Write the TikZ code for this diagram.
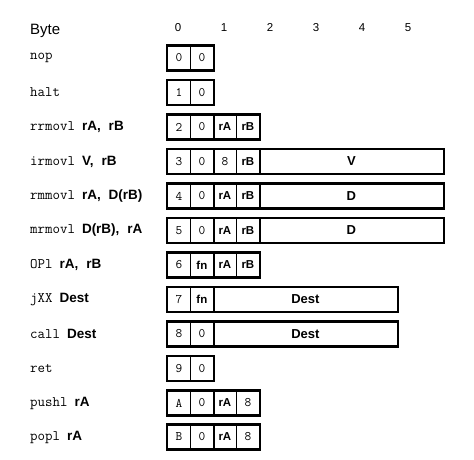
\documentclass[tikz,border=0pt]{standalone}
\usepackage{fontspec}
\setmainfont{Liberation Sans}
\newfontfamily\monof{Latin Modern Mono}
\newfontfamily\sansf{Liberation Sans}
\newcommand\cellat[5]{\node[#4] (#1) at ({167+23*#2},#3) {#5};}
\begin{document}
\begin{tikzpicture}[x=1pt,y=-1pt,
  nib/.style={draw, line width=0.8pt, minimum width=23pt, minimum height=24pt, inner sep=0pt, anchor=west, font=\monof\fontsize{13}{13}\selectfont},
  reg/.style={nib, font=\sansf\bfseries\fontsize{11.5}{11.5}\selectfont},
  wide/.style={nib, font=\sansf\bfseries\fontsize{13}{13}\selectfont, minimum width=#1},
  outer/.style={line width=2.6pt, line join=miter},
  bytediv/.style={line width=2.2pt},
  lbl/.style={anchor=west, inner sep=0pt, font=\sansf\bfseries\fontsize{13.5}{13.5}\selectfont},
  colnum/.style={inner sep=0pt, anchor=base, font=\sansf\fontsize{11.5}{11.5}\selectfont}
]
\useasboundingbox[fill=white] (0,0) rectangle (474,460);
\newcommand\mn[1]{{\monof\mdseries\fontsize{14.5}{14.5}\selectfont #1}\hspace{7pt}}
\newcommand\cm{,\hspace{8pt}}

% header
\node[lbl, font=\sansf\fontsize{15}{15}\selectfont] (hdr) at (30,31) {Byte};
\foreach \k in {0,...,5} { \node[colnum] (col\k) at ({178+46*\k},32) {\k}; }

% nop
\node[lbl] (Lnop) at (30,58) {\mn{nop}};
\cellat{a1}{0}{58}{nib}{0}\cellat{a2}{1}{58}{nib}{0}
\draw[outer] (a1.north west) rectangle (a2.south east);

% halt
\node[lbl] (Lhalt) at (30,92.5) {\mn{halt}};
\cellat{b1}{0}{92.5}{nib}{1}\cellat{b2}{1}{92.5}{nib}{0}
\draw[outer] (b1.north west) rectangle (b2.south east);

% rrmovl
\node[lbl] (Lrr) at (30,127) {\mn{rrmovl}rA\cm rB};
\cellat{c1}{0}{127}{nib}{2}\cellat{c2}{1}{127}{nib}{0}\cellat{c3}{2}{127}{reg}{rA}\cellat{c4}{3}{127}{reg}{rB}
\draw[bytediv] (c2.north east) -- (c2.south east);
\draw[outer] (c1.north west) rectangle (c4.south east);

% irmovl
\node[lbl] (Lir) at (30,161.5) {\mn{irmovl}V\cm rB};
\cellat{d1}{0}{161.5}{nib}{3}\cellat{d2}{1}{161.5}{nib}{0}\cellat{d3}{2}{161.5}{nib}{8}\cellat{d4}{3}{161.5}{reg}{rB}\cellat{d5}{4}{161.5}{wide=184pt}{V}
\draw[bytediv] (d2.north east) -- (d2.south east);
\draw[bytediv] (d4.north east) -- (d4.south east);
\draw[outer] (d1.north west) rectangle (d5.south east);

% rmmovl
\node[lbl] (Lrm) at (30,196) {\mn{rmmovl}rA\cm D(rB)};
\cellat{e1}{0}{196}{nib}{4}\cellat{e2}{1}{196}{nib}{0}\cellat{e3}{2}{196}{reg}{rA}\cellat{e4}{3}{196}{reg}{rB}\cellat{e5}{4}{196}{wide=184pt}{D}
\draw[bytediv] (e2.north east) -- (e2.south east);
\draw[bytediv] (e4.north east) -- (e4.south east);
\draw[outer] (e1.north west) rectangle (e5.south east);

% mrmovl
\node[lbl] (Lmr) at (30,230.5) {\mn{mrmovl}D(rB)\cm rA};
\cellat{f1}{0}{230.5}{nib}{5}\cellat{f2}{1}{230.5}{nib}{0}\cellat{f3}{2}{230.5}{reg}{rA}\cellat{f4}{3}{230.5}{reg}{rB}\cellat{f5}{4}{230.5}{wide=184pt}{D}
\draw[bytediv] (f2.north east) -- (f2.south east);
\draw[bytediv] (f4.north east) -- (f4.south east);
\draw[outer] (f1.north west) rectangle (f5.south east);

% OPl
\node[lbl] (Lop) at (30,265) {\mn{OPl}rA\cm rB};
\cellat{g1}{0}{265}{nib}{6}\cellat{g2}{1}{265}{reg}{fn}\cellat{g3}{2}{265}{reg}{rA}\cellat{g4}{3}{265}{reg}{rB}
\draw[bytediv] (g2.north east) -- (g2.south east);
\draw[outer] (g1.north west) rectangle (g4.south east);

% jXX
\node[lbl] (Lj) at (30,299.5) {\mn{jXX}Dest};
\cellat{h1}{0}{299.5}{nib}{7}\cellat{h2}{1}{299.5}{reg}{fn}\cellat{h3}{2}{299.5}{wide=184pt}{Dest}
\draw[bytediv] (h2.north east) -- (h2.south east);
\draw[outer] (h1.north west) rectangle (h3.south east);

% call
\node[lbl] (Lcall) at (30,334) {\mn{call}Dest};
\cellat{i1}{0}{334}{nib}{8}\cellat{i2}{1}{334}{nib}{0}\cellat{i3}{2}{334}{wide=184pt}{Dest}
\draw[bytediv] (i2.north east) -- (i2.south east);
\draw[outer] (i1.north west) rectangle (i3.south east);

% ret
\node[lbl] (Lret) at (30,368.5) {\mn{ret}};
\cellat{j1}{0}{368.5}{nib}{9}\cellat{j2}{1}{368.5}{nib}{0}
\draw[outer] (j1.north west) rectangle (j2.south east);

% pushl
\node[lbl] (Lpush) at (30,403) {\mn{pushl}rA};
\cellat{k1}{0}{403}{nib}{A}\cellat{k2}{1}{403}{nib}{0}\cellat{k3}{2}{403}{reg}{rA}\cellat{k4}{3}{403}{nib}{8}
\draw[bytediv] (k2.north east) -- (k2.south east);
\draw[outer] (k1.north west) rectangle (k4.south east);

% popl
\node[lbl] (Lpop) at (30,437) {\mn{popl}rA};
\cellat{l1}{0}{437}{nib}{B}\cellat{l2}{1}{437}{nib}{0}\cellat{l3}{2}{437}{reg}{rA}\cellat{l4}{3}{437}{nib}{8}
\draw[bytediv] (l2.north east) -- (l2.south east);
\draw[outer] (l1.north west) rectangle (l4.south east);
\end{tikzpicture}
\end{document}
